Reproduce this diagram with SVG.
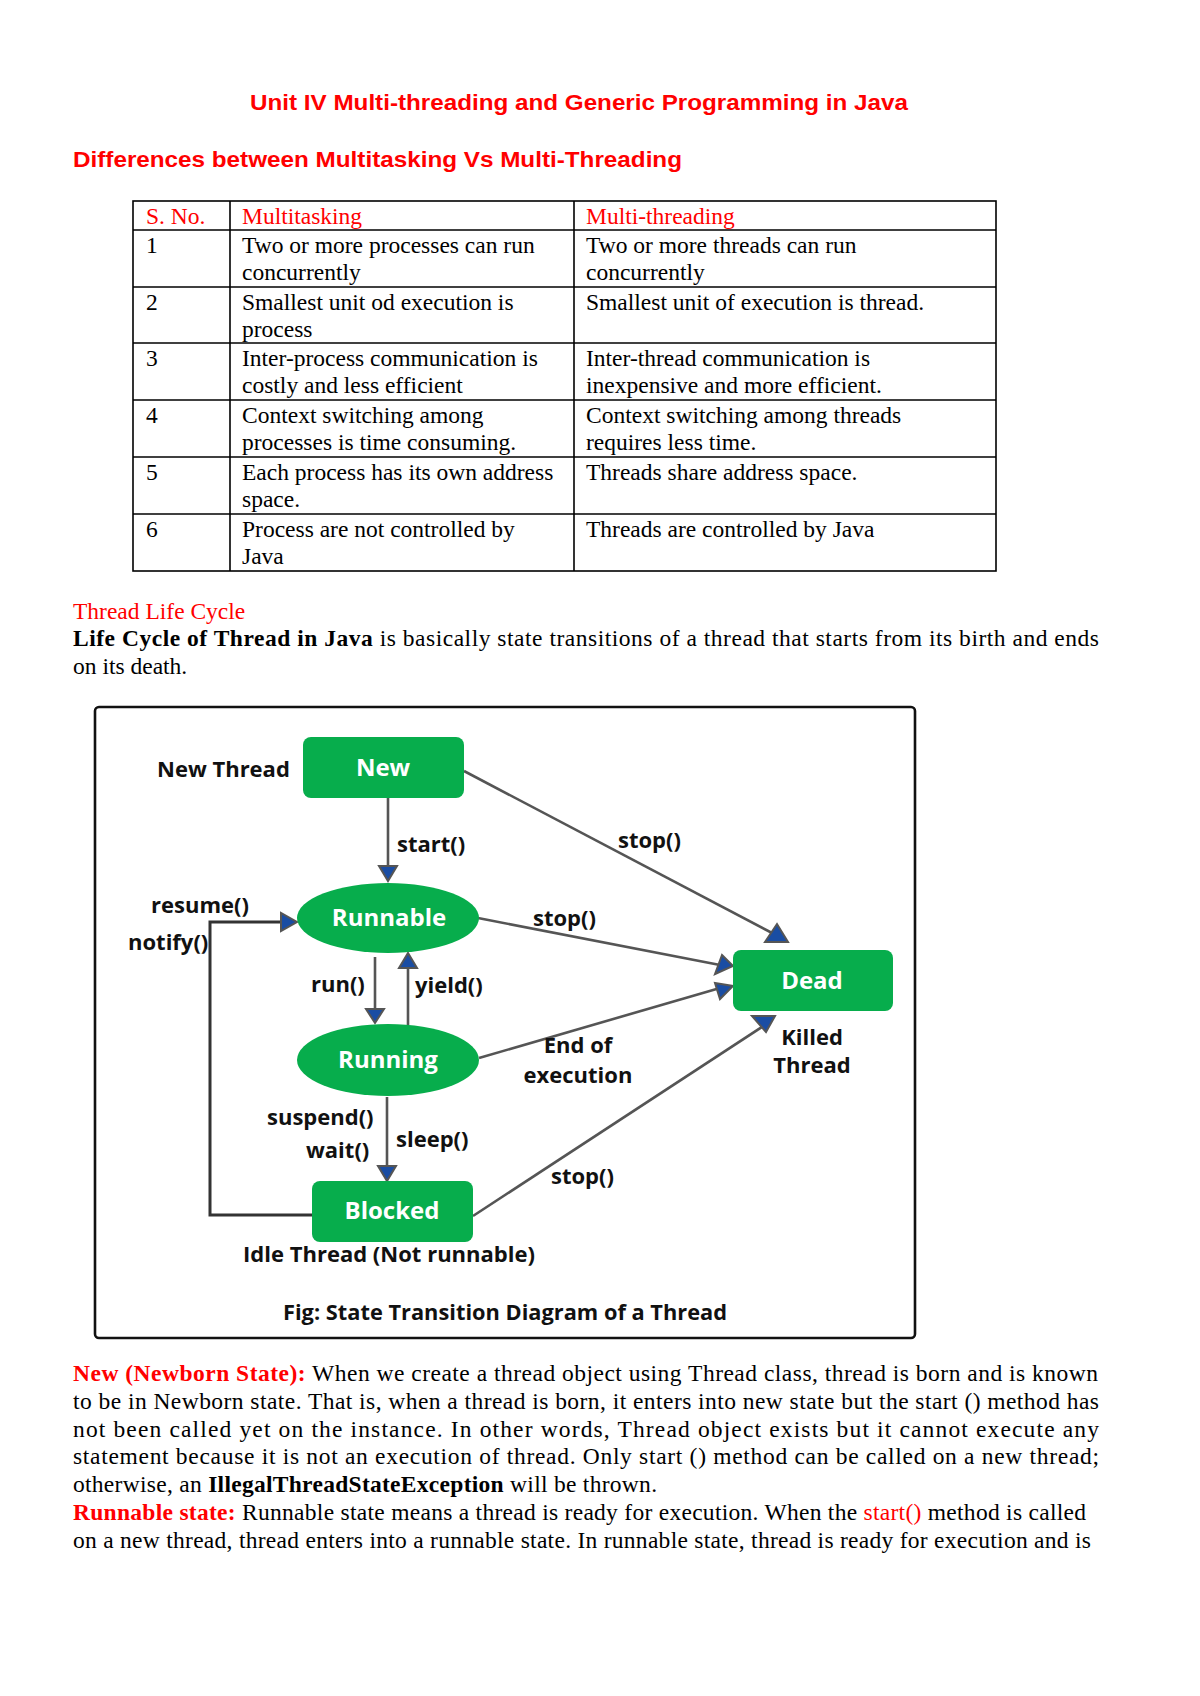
<svg xmlns="http://www.w3.org/2000/svg" width="1200" height="1696" viewBox="0 0 1200 1696">
<style>
.h{font-family:"Liberation Sans",Arial,sans-serif;font-weight:bold;fill:#ff0000;font-size:22px}
.t{font-family:"Liberation Serif","Times New Roman",serif;font-size:23.5px;fill:#000}
.red{fill:#ff0000}
.b{font-weight:bold}
.grid{stroke:#000;stroke-width:1.6;fill:none}
.lbl{font-family:"Open Sans","Noto Sans",sans-serif;font-weight:bold;font-size:22px;fill:#111}
.nl{font-family:"Open Sans","Noto Sans",sans-serif;font-weight:bold;font-size:24px;fill:#fff;text-anchor:middle}
.node{fill:#07ad4c}
.edge{stroke:#555;stroke-width:2.6;fill:none}
.loop{stroke:#333;stroke-width:3;fill:none}
.ah{fill:#1a4da3;stroke:#555;stroke-width:2;stroke-linejoin:miter}
</style>
<rect width="1200" height="1696" fill="#fff"/>
<text class="h" x="250" y="110" textLength="658" lengthAdjust="spacingAndGlyphs">Unit IV Multi-threading and Generic Programming in Java</text>
<text class="h" x="73" y="167" textLength="609" lengthAdjust="spacingAndGlyphs">Differences between Multitasking Vs Multi-Threading</text>
<g id="table">
<rect class="grid" x="133" y="201" width="863" height="370" stroke-width="2.4"/>
<line class="grid" x1="230" y1="201" x2="230" y2="571"/>
<line class="grid" x1="574" y1="201" x2="574" y2="571"/>
<line class="grid" x1="133" y1="230" x2="996" y2="230"/>
<line class="grid" x1="133" y1="287" x2="996" y2="287"/>
<line class="grid" x1="133" y1="343" x2="996" y2="343"/>
<line class="grid" x1="133" y1="400" x2="996" y2="400"/>
<line class="grid" x1="133" y1="457" x2="996" y2="457"/>
<line class="grid" x1="133" y1="514" x2="996" y2="514"/>
<text class="t red" x="146" y="224">S. No.</text>
<text class="t red" x="242" y="224">Multitasking</text>
<text class="t red" x="586" y="224">Multi-threading</text>
<text class="t" x="146" y="253">1</text>
<text class="t" x="242" y="253">Two or more processes can run</text>
<text class="t" x="242" y="280">concurrently</text>
<text class="t" x="586" y="253">Two or more threads can run</text>
<text class="t" x="586" y="280">concurrently</text>
<text class="t" x="146" y="310">2</text>
<text class="t" x="242" y="310">Smallest unit od execution is</text>
<text class="t" x="242" y="337">process</text>
<text class="t" x="586" y="310">Smallest unit of execution is thread.</text>
<text class="t" x="146" y="366">3</text>
<text class="t" x="242" y="366">Inter-process communication is</text>
<text class="t" x="242" y="393">costly and less efficient</text>
<text class="t" x="586" y="366">Inter-thread communication is</text>
<text class="t" x="586" y="393">inexpensive and more efficient.</text>
<text class="t" x="146" y="423">4</text>
<text class="t" x="242" y="423">Context switching among</text>
<text class="t" x="242" y="450">processes is time consuming.</text>
<text class="t" x="586" y="423">Context switching among threads</text>
<text class="t" x="586" y="450">requires less time.</text>
<text class="t" x="146" y="480">5</text>
<text class="t" x="242" y="480">Each process has its own address</text>
<text class="t" x="242" y="507">space.</text>
<text class="t" x="586" y="480">Threads share address space.</text>
<text class="t" x="146" y="537">6</text>
<text class="t" x="242" y="537">Process are not controlled by</text>
<text class="t" x="242" y="564">Java</text>
<text class="t" x="586" y="537">Threads are controlled by Java</text>
</g>
<text class="t red" x="73" y="619">Thread Life Cycle</text>
<text class="t" x="73" y="646" textLength="1026" lengthAdjust="spacing"><tspan class="b">Life Cycle of Thread in Java</tspan> is basically state transitions of a thread that starts from its birth and ends</text>
<text class="t" x="73" y="674">on its death.</text>
<g id="figure">
<rect x="95" y="707" width="820" height="631" rx="4" fill="none" stroke="#111" stroke-width="2.6"/>
</g>
<g id="connectors">
<line class="edge" x1="388" y1="798" x2="388" y2="866"/>
<polygon class="ah" points="379,866 397,866 388,881"/>
<line class="edge" x1="375" y1="957" x2="375" y2="1009"/>
<polygon class="ah" points="366,1009 384,1009 375,1023"/>
<line class="edge" x1="408" y1="1025" x2="408" y2="968"/>
<polygon class="ah" points="399,968 417,968 408,953"/>
<line class="edge" x1="387" y1="1097" x2="387" y2="1166"/>
<polygon class="ah" points="378,1166 396,1166 387,1181"/>
<polyline class="loop" points="312,1215 210,1215 210,922 282,922"/>
<polygon class="ah" points="281,913 281,931 297,922"/>
<line class="edge" x1="464" y1="771" x2="774" y2="934"/>
<polygon class="ah" points="765,942 788,942 777,924"/>
<line class="edge" x1="478" y1="918" x2="720" y2="965"/>
<polygon class="ah" points="722,955 733,966 715,974"/>
<line class="edge" x1="479" y1="1058" x2="720" y2="988"/>
<polygon class="ah" points="715,983 733,986 720,999"/>
<line class="edge" x1="473" y1="1216" x2="765" y2="1025"/>
<polygon class="ah" points="752,1016 775,1016 766,1032"/>
<text class="lbl" x="397" y="852">start()</text>
<text class="lbl" x="151" y="913">resume()</text>
<text class="lbl" x="128" y="950">notify()</text>
<text class="lbl" x="618" y="848">stop()</text>
<text class="lbl" x="533" y="926">stop()</text>
<text class="lbl" x="311" y="992">run()</text>
<text class="lbl" x="415" y="993">yield()</text>
<text class="lbl" x="578" y="1053" text-anchor="middle">End of</text>
<text class="lbl" x="578" y="1083" text-anchor="middle">execution</text>
<text class="lbl" x="267" y="1125">suspend()</text>
<text class="lbl" x="306" y="1158">wait()</text>
<text class="lbl" x="396" y="1147">sleep()</text>
<text class="lbl" x="551" y="1184">stop()</text>
</g>
<g id="node-new">
<rect class="node" x="303" y="737" width="161" height="61" rx="8"/>
<text class="nl" x="383" y="776">New</text>
<text class="lbl" x="157" y="777" font-size="21.5">New Thread</text>
</g>
<g id="node-runnable">
<ellipse class="node" cx="388" cy="918" rx="91" ry="35"/>
<text class="nl" x="389" y="926">Runnable</text>
</g>
<g id="node-running">
<ellipse class="node" cx="388" cy="1060" rx="91" ry="36"/>
<text class="nl" x="388" y="1068">Running</text>
</g>
<g id="node-blocked">
<rect class="node" x="312" y="1181" width="161" height="61" rx="8"/>
<text class="nl" x="392" y="1219">Blocked</text>
<text class="lbl" x="243" y="1262" textLength="292" lengthAdjust="spacingAndGlyphs">Idle Thread (Not runnable)</text>
</g>
<g id="node-dead">
<rect class="node" x="733" y="950" width="160" height="61" rx="8"/>
<text class="nl" x="812" y="989">Dead</text>
<text class="lbl" x="812" y="1045" text-anchor="middle">Killed</text>
<text class="lbl" x="812" y="1073" text-anchor="middle">Thread</text>
</g>
<text class="lbl" x="283" y="1320" textLength="444" lengthAdjust="spacingAndGlyphs">Fig: State Transition Diagram of a Thread</text>
<text class="t" x="73" y="1381" textLength="1025" lengthAdjust="spacing"><tspan class="b red">New (Newborn State):</tspan> When we create a thread object using Thread class, thread is born and is known</text>
<text class="t" x="73" y="1409" textLength="1026" lengthAdjust="spacing">to be in Newborn state. That is, when a thread is born, it enters into new state but the start () method has</text>
<text class="t" x="73" y="1437" textLength="1026" lengthAdjust="spacing">not been called yet on the instance. In other words, Thread object exists but it cannot execute any</text>
<text class="t" x="73" y="1464" textLength="1026" lengthAdjust="spacing">statement because it is not an execution of thread. Only start () method can be called on a new thread;</text>
<text class="t" x="73" y="1492" textLength="584" lengthAdjust="spacing">otherwise, an <tspan class="b">IllegalThreadStateException</tspan> will be thrown.</text>
<text class="t" x="73" y="1520" textLength="1013" lengthAdjust="spacing"><tspan class="b red">Runnable state:</tspan> Runnable state means a thread is ready for execution. When the <tspan class="red">start()</tspan> method is called</text>
<text class="t" x="73" y="1548" textLength="1018" lengthAdjust="spacing">on a new thread, thread enters into a runnable state.  In runnable state, thread is ready for execution and is</text>
</svg>
